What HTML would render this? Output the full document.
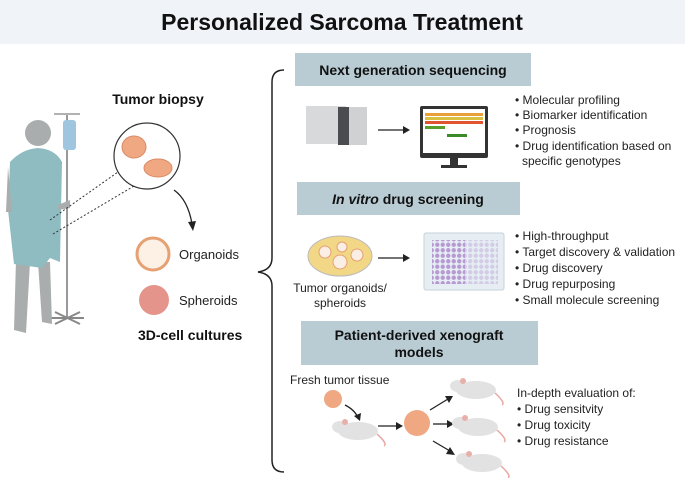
<!DOCTYPE html>
<html><head><meta charset="utf-8"><style>
body{margin:0;width:685px;height:478px;overflow:hidden;background:#fff;font-family:"Liberation Sans",sans-serif}
svg text{font-family:"Liberation Sans",sans-serif}
</style></head><body>
<svg width="685" height="478" viewBox="0 0 685 478" xmlns="http://www.w3.org/2000/svg">
<rect x="0" y="0" width="685" height="44" fill="#f0f4f8"/>
<text x="342" y="30" font-size="23" font-weight="bold" text-anchor="middle" fill="#111">Personalized Sarcoma Treatment</text>

<!-- brace -->
<path d="M284 70 Q272 70 272 82 L272 258 Q272 270 258 272 Q272 274 272 286 L272 460 Q272 472 284 472" fill="none" stroke="#222" stroke-width="1.5"/>

<!-- iv pole -->
<line x1="67" y1="115" x2="67" y2="318" stroke="#999" stroke-width="2"/>
<line x1="54" y1="114" x2="80" y2="114" stroke="#999" stroke-width="1.5"/>
<rect x="63" y="120" width="13" height="30" rx="3" fill="#9fc6de"/>
<path d="M50 318 L84 318 M55 312 L80 324 M80 312 L55 324" stroke="#888" stroke-width="2"/>
<!-- patient -->
<circle cx="38" cy="133" r="13" fill="#a9adad"/>
<path d="M16 260 L14 330 L26 333 L30 262 Z M38 262 L42 322 L52 324 L50 262 Z" fill="#a9adad"/>
<path d="M10 162 Q22 149 38 148 Q55 149 62 162 L60 262 L50 258 L42 268 L14 264 L8 210 Z" fill="#8fbcc0"/>
<path d="M8 167 L6 212 L12 212 Z M58 205 L70 200 L70 208 L58 210 Z" fill="#a9adad"/>
<!-- biopsy -->
<text x="158" y="104" font-size="14" font-weight="bold" fill="#111" text-anchor="middle">Tumor biopsy</text>
<line x1="50" y1="220" x2="118" y2="172" stroke="#333" stroke-dasharray="2,2"/>
<line x1="53" y1="234" x2="134" y2="186" stroke="#333" stroke-dasharray="2,2"/>
<circle cx="147" cy="156" r="33" fill="#fff" stroke="#333" stroke-width="1.2"/>
<ellipse cx="134" cy="147" rx="12" ry="11" fill="#f0a882" stroke="#d98a66"/>
<ellipse cx="158" cy="168" rx="14" ry="9" fill="#f0a882" stroke="#d98a66"/>
<path d="M174 190 Q188 200 192 224" fill="none" stroke="#222" stroke-width="1.3"/>
<path d="M188 222 L193 231 L196 221 Z" fill="#222"/>
<circle cx="153" cy="254" r="16" fill="#fdf1e6" stroke="#e6a072" stroke-width="3"/>
<text x="179" y="259" font-size="13" fill="#222">Organoids</text>
<circle cx="154" cy="300" r="15" fill="#e5948c"/>
<text x="179" y="305" font-size="13" fill="#222">Spheroids</text>
<text x="138" y="340" font-size="14" font-weight="bold" fill="#111">3D-cell cultures</text>

<!-- NGS -->
<rect x="295" y="53" width="236" height="33" fill="#b9ccd4"/>
<text x="413" y="75" font-size="14" font-weight="bold" text-anchor="middle" fill="#111">Next generation sequencing</text>
<rect x="306" y="106" width="40" height="38" fill="#d8d9db"/>
<rect x="338" y="107" width="14" height="38" fill="#4a4c50"/>
<rect x="349" y="107" width="18" height="38" fill="#d0d1d3"/>
<line x1="378" y1="130" x2="405" y2="130" stroke="#222" stroke-width="1.3"/>
<path d="M403 126 L410 130 L403 134 Z" fill="#222"/>
<rect x="420" y="106" width="68" height="52" rx="2" fill="#333"/>
<rect x="423" y="109" width="62" height="44" fill="#fff"/>
<rect x="425" y="113" width="58" height="3" fill="#e7a03a"/>
<rect x="425" y="117" width="58" height="3" fill="#d8c040"/>
<rect x="425" y="121" width="58" height="3" fill="#e0552e"/>
<rect x="425" y="126" width="20" height="3" fill="#59a02a"/>
<rect x="447" y="134" width="20" height="3" fill="#3d8a2a"/>
<rect x="450" y="158" width="8" height="8" fill="#333"/>
<rect x="441" y="165" width="26" height="3" fill="#333"/>
<g font-size="12" fill="#222">
<text x="515" y="104">• Molecular profiling</text>
<text x="515" y="119">• Biomarker identification</text>
<text x="515" y="134">• Prognosis</text>
<text x="515" y="150">• Drug identification based on</text>
<text x="522" y="165">specific genotypes</text>
</g>

<!-- in vitro -->
<rect x="297" y="182" width="223" height="33" fill="#b9ccd4"/>
<text x="408" y="204" font-size="14" font-weight="bold" text-anchor="middle" fill="#111"><tspan font-style="italic">In vitro</tspan> drug screening</text>
<ellipse cx="340" cy="256" rx="32" ry="20" fill="#f2d786" stroke="#bbb"/>
<circle cx="325" cy="252" r="6" fill="#fbeee4" stroke="#e6a072"/>
<circle cx="340" cy="262" r="7" fill="#fbeee4" stroke="#e6a072"/>
<circle cx="357" cy="255" r="6" fill="#fbeee4" stroke="#e6a072"/>
<circle cx="342" cy="247" r="5" fill="#fbeee4" stroke="#e6a072"/>
<text x="340" y="292" font-size="12" text-anchor="middle" fill="#222">Tumor organoids/</text>
<text x="340" y="307" font-size="12" text-anchor="middle" fill="#222">spheroids</text>
<line x1="378" y1="258" x2="405" y2="258" stroke="#222" stroke-width="1.3"/>
<path d="M403 254 L410 258 L403 262 Z" fill="#222"/>
<defs>
<pattern id="wells" width="5.5" height="5.5" patternUnits="userSpaceOnUse"><circle cx="2.75" cy="2.75" r="2.2" fill="#b79ad2"/></pattern>
</defs>
<rect x="424" y="233" width="80" height="57" rx="2" fill="#e6eef4" stroke="#c7d2da"/>
<rect x="432" y="240" width="66" height="44" fill="url(#wells)"/>
<rect x="465" y="240" width="33" height="44" fill="#e6eef4" opacity="0.6"/>
<g font-size="12" fill="#222">
<text x="515" y="240">• High-throughput</text>
<text x="515" y="256">• Target discovery &amp; validation</text>
<text x="515" y="272">• Drug discovery</text>
<text x="515" y="288">• Drug repurposing</text>
<text x="515" y="304">• Small molecule screening</text>
</g>

<!-- PDX -->
<rect x="301" y="321" width="237" height="44" fill="#b9ccd4"/>
<text x="419" y="340" font-size="14" font-weight="bold" text-anchor="middle" fill="#111">Patient-derived xenograft</text>
<text x="419" y="357" font-size="14" font-weight="bold" text-anchor="middle" fill="#111">models</text>
<text x="290" y="384" font-size="12" fill="#222">Fresh tumor tissue</text>
<circle cx="333" cy="399" r="9" fill="#f0a882"/>
<path d="M345 405 Q355 410 358 418" fill="none" stroke="#222" stroke-width="1.3"/>
<path d="M354 416 L360 421 L361 413 Z" fill="#222"/>
<g id="m">
<ellipse cx="358" cy="431" rx="20" ry="9" fill="#e2e2e2"/><ellipse cx="340" cy="427" rx="8" ry="6" fill="#e2e2e2"/>
<circle cx="345" cy="422" r="3" fill="#e8b0aa"/>
<path d="M377 434 Q388 444 384 446" fill="none" stroke="#e8a6a0" stroke-width="1.5"/>
</g>
<line x1="378" y1="426" x2="398" y2="426" stroke="#222" stroke-width="1.3"/>
<path d="M396 422 L403 426 L396 430 Z" fill="#222"/>
<circle cx="417" cy="423" r="13" fill="#f0a882"/>
<line x1="430" y1="410" x2="448" y2="399" stroke="#222" stroke-width="1.3"/>
<path d="M445 396 L453 396 L449 403 Z" fill="#222"/>
<line x1="433" y1="424" x2="449" y2="424" stroke="#222" stroke-width="1.3"/>
<path d="M447 420 L454 424 L447 428 Z" fill="#222"/>
<line x1="433" y1="441" x2="450" y2="451" stroke="#222" stroke-width="1.3"/>
<path d="M446 454 L455 455 L450 447 Z" fill="#222"/>
<use href="#m" x="118" y="-41"/>
<use href="#m" x="120" y="-4"/>
<use href="#m" x="124" y="32"/>
<g font-size="12" fill="#222">
<text x="517" y="397">In-depth evaluation of:</text>
<text x="517" y="413">• Drug sensitvity</text>
<text x="517" y="429">• Drug toxicity</text>
<text x="517" y="445">• Drug resistance</text>
</g>
</svg>
</body></html>
